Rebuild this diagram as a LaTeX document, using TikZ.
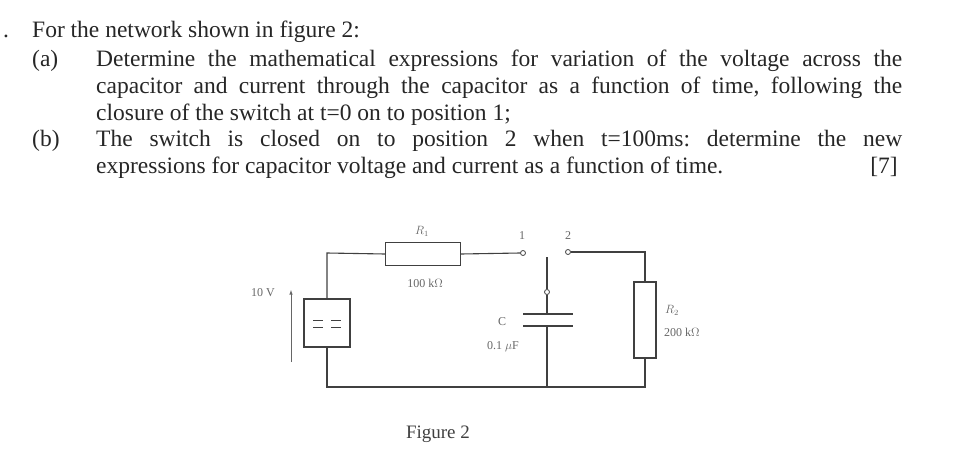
\documentclass[tikz,border=0pt]{standalone}
\usepackage{fontspec}
\setmainfont{Liberation Serif}
\frenchspacing
\begin{document}
\begin{tikzpicture}[x=1pt,y=-1pt,
  txt/.style={anchor=base west,inner sep=0,font=\fontsize{23.5}{26}\selectfont,text=black!85},
  lbl/.style={inner sep=0,font=\fontsize{12}{13}\selectfont,text=black!60},
  w/.style={line width=1.1pt,black!75},
  term/.style={circle,draw=black!75,line width=0.8pt,fill=white,inner sep=0,minimum size=5pt}]
\useasboundingbox (0,0) rectangle (956,463);
\node[txt] (dot) at (3,37) {.};
\node[txt] (l0) at (32,37) {For the network shown in figure 2:};
\node[txt] (a) at (32,66) {(a)};
\node[txt] (l1) at (96,66) {\makebox[806pt][s]{Determine the mathematical expressions for variation of the voltage across the}};
\node[txt] (l2) at (96,93) {\makebox[806pt][s]{capacitor and current through the capacitor as a function of time, following the}};
\node[txt] (l3) at (96,120) {closure of the switch at t=0 on to position 1;};
\node[txt] (b) at (32,146) {(b)};
\node[txt] (l4) at (96,146) {\makebox[806pt][s]{The switch is closed on to position 2 when t=100ms: determine the new}};
\node[txt] (l5) at (96,173) {expressions for capacitor voltage and current as a function of time.};
\node[txt,anchor=base east] (seven) at (898,173) {[7]};
% circuit
\node[draw=black!75,line width=1.1pt,minimum width=46pt,minimum height=48pt,inner sep=0] (bat) at (327,323) {};
\draw[black!75,line width=1pt] (313,320)--(323,320) (331,320)--(341,320) (313,327)--(323,327) (331,327)--(341,327);
\node[draw=black!75,line width=1.1pt,minimum width=75pt,minimum height=23pt,inner sep=0] (r1) at (423,254) {};
\node[draw=black!75,line width=1.1pt,minimum width=22pt,minimum height=76pt,inner sep=0] (r2) at (645,320) {};
\node[term] (t1) at (523,253) {};
\node[term] (t2) at (568,252) {};
\node[term] (p) at (547,292) {};
\coordinate (sw) at (547,257);
\coordinate (c1) at (547,314);
\coordinate (c2) at (547,326);
\coordinate (bl) at (327,387);
\coordinate (bc) at (547,387);
\coordinate (br) at (645,387);
\coordinate (tl) at (327,253);
\coordinate (tr) at (645,252);
\draw[w] (bat.north) -- (tl) -- (r1.west);
\draw[w] (r1.east) -- (t1.west);
\draw[w] (t2.east) -- (tr) -- (r2.north);
\draw[w] (r2.south) -- (br) -- (bc) -- (bl) -- (bat.south);
\draw[w] (sw) -- (p.north);
\draw[w] (p.south) -- (c1);
\draw[w] (523,314) -- (573,314);
\draw[w] (523,326) -- (573,326);
\draw[w] (c2) -- (bc);
\coordinate (va) at (291,362);
\coordinate (vb) at (291,290);
\draw[black!60,line width=0.6pt,-latex] (va) -- (vb);
\node[lbl] (v) at (263,293) {10 V};
\node[lbl] (r1l) at (422,231) {$R_1$};
\node[lbl] (r1v) at (425,283) {100 k$\Omega$};
\node[lbl] (n1) at (522,236) {1};
\node[lbl] (n2) at (568,236) {2};
\node[lbl] (cl) at (502,322) {C};
\node[lbl] (cv) at (503,347) {0.1 $\mu$F};
\node[lbl,anchor=west] (r2l) at (665,310) {$R_2$};
\node[lbl,anchor=west] (r2v) at (664,332) {200 k$\Omega$};
\node[inner sep=0,font=\fontsize{19}{21}\selectfont,text=black!75] (fig) at (438,434) {Figure 2};
\end{tikzpicture}
\end{document}
